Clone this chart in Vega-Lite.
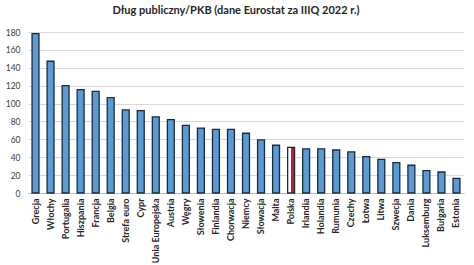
{
  "$schema": "https://vega.github.io/schema/vega-lite/v6.json",
  "autosize": "none",
  "width": 436,
  "height": 161,
  "padding": {"left": 28, "top": 32, "right": 10, "bottom": 72},
  "background": "white",
  "title": {"text": "Dług publiczny/PKB (dane Eurostat za IIIQ 2022 r.)", "font": "Lato", "fontSize": 11, "fontWeight": "bold", "color": "#262626", "anchor": "middle", "dx": -10, "offset": 12},
  "data": {"values": [
    {"kraj": "Grecja", "dlug": 178.2},
    {"kraj": "Włochy", "dlug": 147.3},
    {"kraj": "Portugalia", "dlug": 120.1},
    {"kraj": "Hiszpania", "dlug": 115.6},
    {"kraj": "Francja", "dlug": 113.7},
    {"kraj": "Belgia", "dlug": 106.6},
    {"kraj": "Strefa euro", "dlug": 93.0},
    {"kraj": "Cypr", "dlug": 92.0},
    {"kraj": "Unia Europejska", "dlug": 85.1},
    {"kraj": "Austria", "dlug": 82.0},
    {"kraj": "Węgry", "dlug": 75.6},
    {"kraj": "Słowenia", "dlug": 72.6},
    {"kraj": "Finlandia", "dlug": 71.2},
    {"kraj": "Chorwacja", "dlug": 71.2},
    {"kraj": "Niemcy", "dlug": 66.8},
    {"kraj": "Słowacja", "dlug": 59.3},
    {"kraj": "Malta", "dlug": 53.4},
    {"kraj": "Polska", "dlug": 51.0},
    {"kraj": "Irlandia", "dlug": 49.4},
    {"kraj": "Holandia", "dlug": 49.4},
    {"kraj": "Rumunia", "dlug": 48.1},
    {"kraj": "Czechy", "dlug": 45.9},
    {"kraj": "Łotwa", "dlug": 40.7},
    {"kraj": "Litwa", "dlug": 37.7},
    {"kraj": "Szwecja", "dlug": 34.0},
    {"kraj": "Dania", "dlug": 31.0},
    {"kraj": "Luksemburg", "dlug": 25.0},
    {"kraj": "Bułgaria", "dlug": 23.5},
    {"kraj": "Estonia", "dlug": 16.4}
  ]},
  "encoding": {
    "x": {"field": "kraj", "type": "nominal",
      "sort": ["Grecja", "Włochy", "Portugalia", "Hiszpania", "Francja", "Belgia", "Strefa euro", "Cypr", "Unia Europejska", "Austria", "Węgry", "Słowenia", "Finlandia", "Chorwacja", "Niemcy", "Słowacja", "Malta", "Polska", "Irlandia", "Holandia", "Rumunia", "Czechy", "Łotwa", "Litwa", "Szwecja", "Dania", "Luksemburg", "Bułgaria", "Estonia"],
      "scale": {"paddingInner": 0.54, "paddingOuter": 0.27},
      "axis": {"title": null, "labelAngle": -90, "labelFont": "Lato", "labelFontSize": 9, "labelFontWeight": "bold", "labelColor": "#262626", "labelPadding": 5, "ticks": false, "domainColor": "#bfbfbf", "domainWidth": 1, "grid": false}},
    "y": {"field": "dlug", "type": "quantitative",
      "scale": {"domain": [0, 180], "nice": false},
      "axis": {"title": null, "values": [0, 20, 40, 60, 80, 100, 120, 140, 160, 180], "labelFont": "Lato", "labelFontSize": 8.5, "labelColor": "#404040", "labelPadding": 8, "ticks": false, "domain": false, "gridColor": "#d9d9d9", "gridWidth": 1}}
  },
  "layer": [
    {"transform": [{"filter": "datum.kraj !== 'Polska'"}],
     "mark": {"type": "bar", "color": "#5B9BD5", "stroke": "#1c2b3c", "strokeWidth": 1.3}},
    {"transform": [{"filter": "datum.kraj === 'Polska'"}],
     "mark": {"type": "bar", "stroke": "#1c2b3c", "strokeWidth": 1.3,
       "color": {"gradient": "linear", "x1": 0, "y1": 0, "x2": 1, "y2": 0,
         "stops": [{"offset": 0, "color": "#ffffff"}, {"offset": 0.45, "color": "#ffffff"}, {"offset": 0.46, "color": "#d0182f"}, {"offset": 1, "color": "#d0182f"}]}}}
  ],
  "config": {"view": {"stroke": null}}
}
